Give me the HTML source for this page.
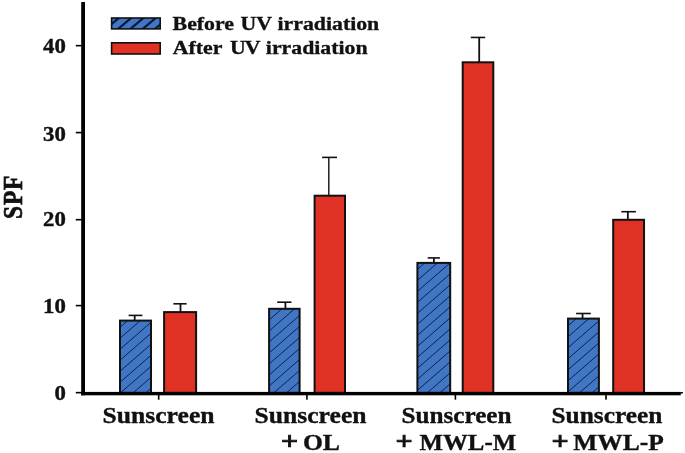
<!DOCTYPE html><html><head><meta charset="utf-8"><title>SPF chart</title><style>html,body{margin:0;padding:0;background:#fff}svg{display:block}</style></head><body><svg width="685" height="453" viewBox="0 0 685 453" font-family="'Liberation Serif', serif" font-weight="bold" fill="#111">
<rect width="685" height="453" fill="#fff"/>
<path d="M128.6 315.4H142.4" stroke="#111" stroke-width="1.6" fill="none"/>
<path d="M134.70 315.4V320.6" stroke="#111" stroke-width="1.8" fill="none"/>
<path d="M173.4 303.8H186.6" stroke="#111" stroke-width="1.6" fill="none"/>
<path d="M180.50 303.8V312.1" stroke="#111" stroke-width="1.8" fill="none"/>
<path d="M277.2 302.2H291.5" stroke="#111" stroke-width="1.6" fill="none"/>
<path d="M285.40 302.2V308.8" stroke="#111" stroke-width="1.8" fill="none"/>
<path d="M322.1 157.4H337.0" stroke="#111" stroke-width="1.6" fill="none"/>
<path d="M328.80 157.4V195.7" stroke="#111" stroke-width="1.4" fill="none"/>
<path d="M427.7 257.9H439.9" stroke="#111" stroke-width="1.6" fill="none"/>
<path d="M433.90 257.9V262.9" stroke="#111" stroke-width="1.8" fill="none"/>
<path d="M470.8 37.45H485.2" stroke="#111" stroke-width="1.6" fill="none"/>
<path d="M479.20 37.45V62.3" stroke="#111" stroke-width="1.8" fill="none"/>
<path d="M576.1 313.5H590.8" stroke="#111" stroke-width="1.6" fill="none"/>
<path d="M582.55 313.5V318.6" stroke="#111" stroke-width="1.8" fill="none"/>
<path d="M621.3 211.7H635.9" stroke="#111" stroke-width="1.6" fill="none"/>
<path d="M627.85 211.7V219.8" stroke="#111" stroke-width="1.8" fill="none"/>
<clipPath id="c0"><rect x="120.00" y="320.60" width="31.00" height="72.30"/></clipPath>
<rect x="120.00" y="320.60" width="31.00" height="72.30" fill="#4176c5"/>
<path d="M116.0 319.75L161.0 280.60M116.0 330.75L161.0 291.60M116.0 341.75L161.0 302.60M116.0 352.75L161.0 313.60M116.0 363.75L161.0 324.60M116.0 374.75L161.0 335.60M116.0 385.75L161.0 346.60M116.0 396.75L161.0 357.60M116.0 407.75L161.0 368.60M116.0 418.75L161.0 379.60M116.0 429.75L161.0 390.60" stroke="#0a1838" stroke-width="1.0" stroke-opacity="0.9" fill="none" clip-path="url(#c0)"/>
<rect x="120.00" y="320.60" width="31.00" height="72.30" fill="none" stroke="#111" stroke-width="2"/>
<rect x="164.10" y="312.10" width="32.00" height="80.80" fill="#e03224" stroke="#111" stroke-width="2"/>
<clipPath id="c2"><rect x="269.10" y="308.80" width="30.50" height="84.10"/></clipPath>
<rect x="269.10" y="308.80" width="30.50" height="84.10" fill="#4176c5"/>
<path d="M265.1 301.45L310.1 262.30M265.1 312.45L310.1 273.30M265.1 323.45L310.1 284.30M265.1 334.45L310.1 295.30M265.1 345.45L310.1 306.30M265.1 356.45L310.1 317.30M265.1 367.45L310.1 328.30M265.1 378.45L310.1 339.30M265.1 389.45L310.1 350.30M265.1 400.45L310.1 361.30M265.1 411.45L310.1 372.30M265.1 422.45L310.1 383.30M265.1 433.45L310.1 394.30" stroke="#0a1838" stroke-width="1.0" stroke-opacity="0.9" fill="none" clip-path="url(#c2)"/>
<rect x="269.10" y="308.80" width="30.50" height="84.10" fill="none" stroke="#111" stroke-width="2"/>
<rect x="314.60" y="195.70" width="30.40" height="197.20" fill="#e03224" stroke="#111" stroke-width="2"/>
<clipPath id="c4"><rect x="417.40" y="262.90" width="32.80" height="130.00"/></clipPath>
<rect x="417.40" y="262.90" width="32.80" height="130.00" fill="#4176c5"/>
<path d="M413.4 261.85L458.4 222.70M413.4 272.85L458.4 233.70M413.4 283.85L458.4 244.70M413.4 294.85L458.4 255.70M413.4 305.85L458.4 266.70M413.4 316.85L458.4 277.70M413.4 327.85L458.4 288.70M413.4 338.85L458.4 299.70M413.4 349.85L458.4 310.70M413.4 360.85L458.4 321.70M413.4 371.85L458.4 332.70M413.4 382.85L458.4 343.70M413.4 393.85L458.4 354.70M413.4 404.85L458.4 365.70M413.4 415.85L458.4 376.70M413.4 426.85L458.4 387.70" stroke="#0a1838" stroke-width="1.0" stroke-opacity="0.9" fill="none" clip-path="url(#c4)"/>
<rect x="417.40" y="262.90" width="32.80" height="130.00" fill="none" stroke="#111" stroke-width="2"/>
<rect x="462.70" y="62.30" width="30.60" height="330.60" fill="#e03224" stroke="#111" stroke-width="2"/>
<clipPath id="c6"><rect x="568.00" y="318.60" width="30.90" height="74.30"/></clipPath>
<rect x="568.00" y="318.60" width="30.90" height="74.30" fill="#4176c5"/>
<path d="M564.0 318.25L609.0 279.10M564.0 329.25L609.0 290.10M564.0 340.25L609.0 301.10M564.0 351.25L609.0 312.10M564.0 362.25L609.0 323.10M564.0 373.25L609.0 334.10M564.0 384.25L609.0 345.10M564.0 395.25L609.0 356.10M564.0 406.25L609.0 367.10M564.0 417.25L609.0 378.10M564.0 428.25L609.0 389.10" stroke="#0a1838" stroke-width="1.0" stroke-opacity="0.9" fill="none" clip-path="url(#c6)"/>
<rect x="568.00" y="318.60" width="30.90" height="74.30" fill="none" stroke="#111" stroke-width="2"/>
<rect x="613.20" y="219.80" width="30.85" height="173.10" fill="#e03224" stroke="#111" stroke-width="2"/>
<rect x="81.2" y="2" width="3.8" height="393.3" fill="#000"/>
<rect x="81.2" y="391.9" width="599.5999999999999" height="3.400000000000034" fill="#000"/>
<rect x="680" y="392.0" width="3" height="1.5" fill="#111"/>
<rect x="75.8" y="391.85" width="7" height="1.6" fill="#000"/>
<text transform="translate(65.8 400.00) scale(1.14 1.02)" text-anchor="end" font-size="20" stroke="#111" stroke-width="0.4">0</text>
<rect x="75.8" y="304.80" width="7" height="1.6" fill="#000"/>
<text transform="translate(65.8 312.80) scale(1.14 1.02)" text-anchor="end" font-size="20" stroke="#111" stroke-width="0.4">10</text>
<rect x="75.8" y="218.90" width="7" height="1.6" fill="#000"/>
<text transform="translate(65.8 225.60) scale(1.14 1.02)" text-anchor="end" font-size="20" stroke="#111" stroke-width="0.4">20</text>
<rect x="75.8" y="131.80" width="7" height="1.6" fill="#000"/>
<text transform="translate(65.8 140.50) scale(1.14 1.02)" text-anchor="end" font-size="20" stroke="#111" stroke-width="0.4">30</text>
<rect x="75.8" y="44.85" width="7" height="1.6" fill="#000"/>
<text transform="translate(65.8 53.00) scale(1.14 1.02)" text-anchor="end" font-size="20" stroke="#111" stroke-width="0.4">40</text>
<rect x="157.90" y="394" width="1.6" height="5.7" fill="#000"/>
<rect x="306.10" y="394" width="1.6" height="5.7" fill="#000"/>
<rect x="454.60" y="394" width="1.6" height="5.7" fill="#000"/>
<rect x="605.20" y="394" width="1.6" height="5.7" fill="#000"/>
<clipPath id="lc"><rect x="111.6" y="18" width="48.6" height="10.9"/></clipPath>
<rect x="111.6" y="18" width="48.6" height="10.9" fill="#4176c5"/>
<path d="M94.3 38.58L124.3 13.38M106.6 38.58L136.6 13.38M118.9 38.58L148.9 13.38M131.2 38.58L161.2 13.38M143.5 38.58L173.5 13.38M155.8 38.58L185.8 13.38" stroke="#0a1838" stroke-width="2.2" fill="none" clip-path="url(#lc)"/>
<rect x="111.6" y="18" width="48.6" height="10.9" fill="none" stroke="#111" stroke-width="1.6"/>
<rect x="111.6" y="42.8" width="48.6" height="11.2" fill="#e03224" stroke="#111" stroke-width="1.6"/>
<text transform="translate(172.6 29.7) scale(1.148 1)" dx="0 0 0 0 0 0 0 0.9 0 0 0.5" font-size="19" stroke="#111" stroke-width="0.33">Before UV irradiation</text>
<text transform="translate(172.8 54.2) scale(1.148 1)" dx="0 0 0 0 0 0 2.3 -0.9 0 0.2" font-size="19" stroke="#111" stroke-width="0.33">After UV irradiation</text>
<text transform="translate(22.25 218.95) rotate(-90) scale(1.175 1.376)" x="0 11.79 24.7" y="0" font-size="20" stroke="#111" stroke-width="0.5">SPF</text>
<text x="102.6" y="422.9" font-size="23" textLength="111.9" lengthAdjust="spacingAndGlyphs" stroke="#111" stroke-width="0.35">Sunscreen</text>
<text x="254.6" y="422.9" font-size="23" textLength="111.9" lengthAdjust="spacingAndGlyphs" stroke="#111" stroke-width="0.35">Sunscreen</text>
<text x="401.4" y="422.9" font-size="23" textLength="110.2" lengthAdjust="spacingAndGlyphs" stroke="#111" stroke-width="0.35">Sunscreen</text>
<text x="551.5" y="422.9" font-size="23" textLength="110.9" lengthAdjust="spacingAndGlyphs" stroke="#111" stroke-width="0.35">Sunscreen</text>
<text transform="translate(280.90 449.6) scale(1.31 1.06)" font-size="23" stroke="#111" stroke-width="0.7">+</text>
<text x="302.9" y="449.6" font-size="23" textLength="37.05" lengthAdjust="spacingAndGlyphs" stroke="#111" stroke-width="0.35">OL</text>
<text transform="translate(395.40 449.6) scale(1.31 1.06)" font-size="23" stroke="#111" stroke-width="0.7">+</text>
<text x="419.6" y="449.6" font-size="23" textLength="96.5" lengthAdjust="spacingAndGlyphs" stroke="#111" stroke-width="0.35">MWL-M</text>
<text transform="translate(551.40 449.6) scale(1.31 1.06)" font-size="23" stroke="#111" stroke-width="0.7">+</text>
<text x="573.3" y="449.6" font-size="23" textLength="90.5" lengthAdjust="spacingAndGlyphs" stroke="#111" stroke-width="0.35">MWL-P</text>
</svg></body></html>
